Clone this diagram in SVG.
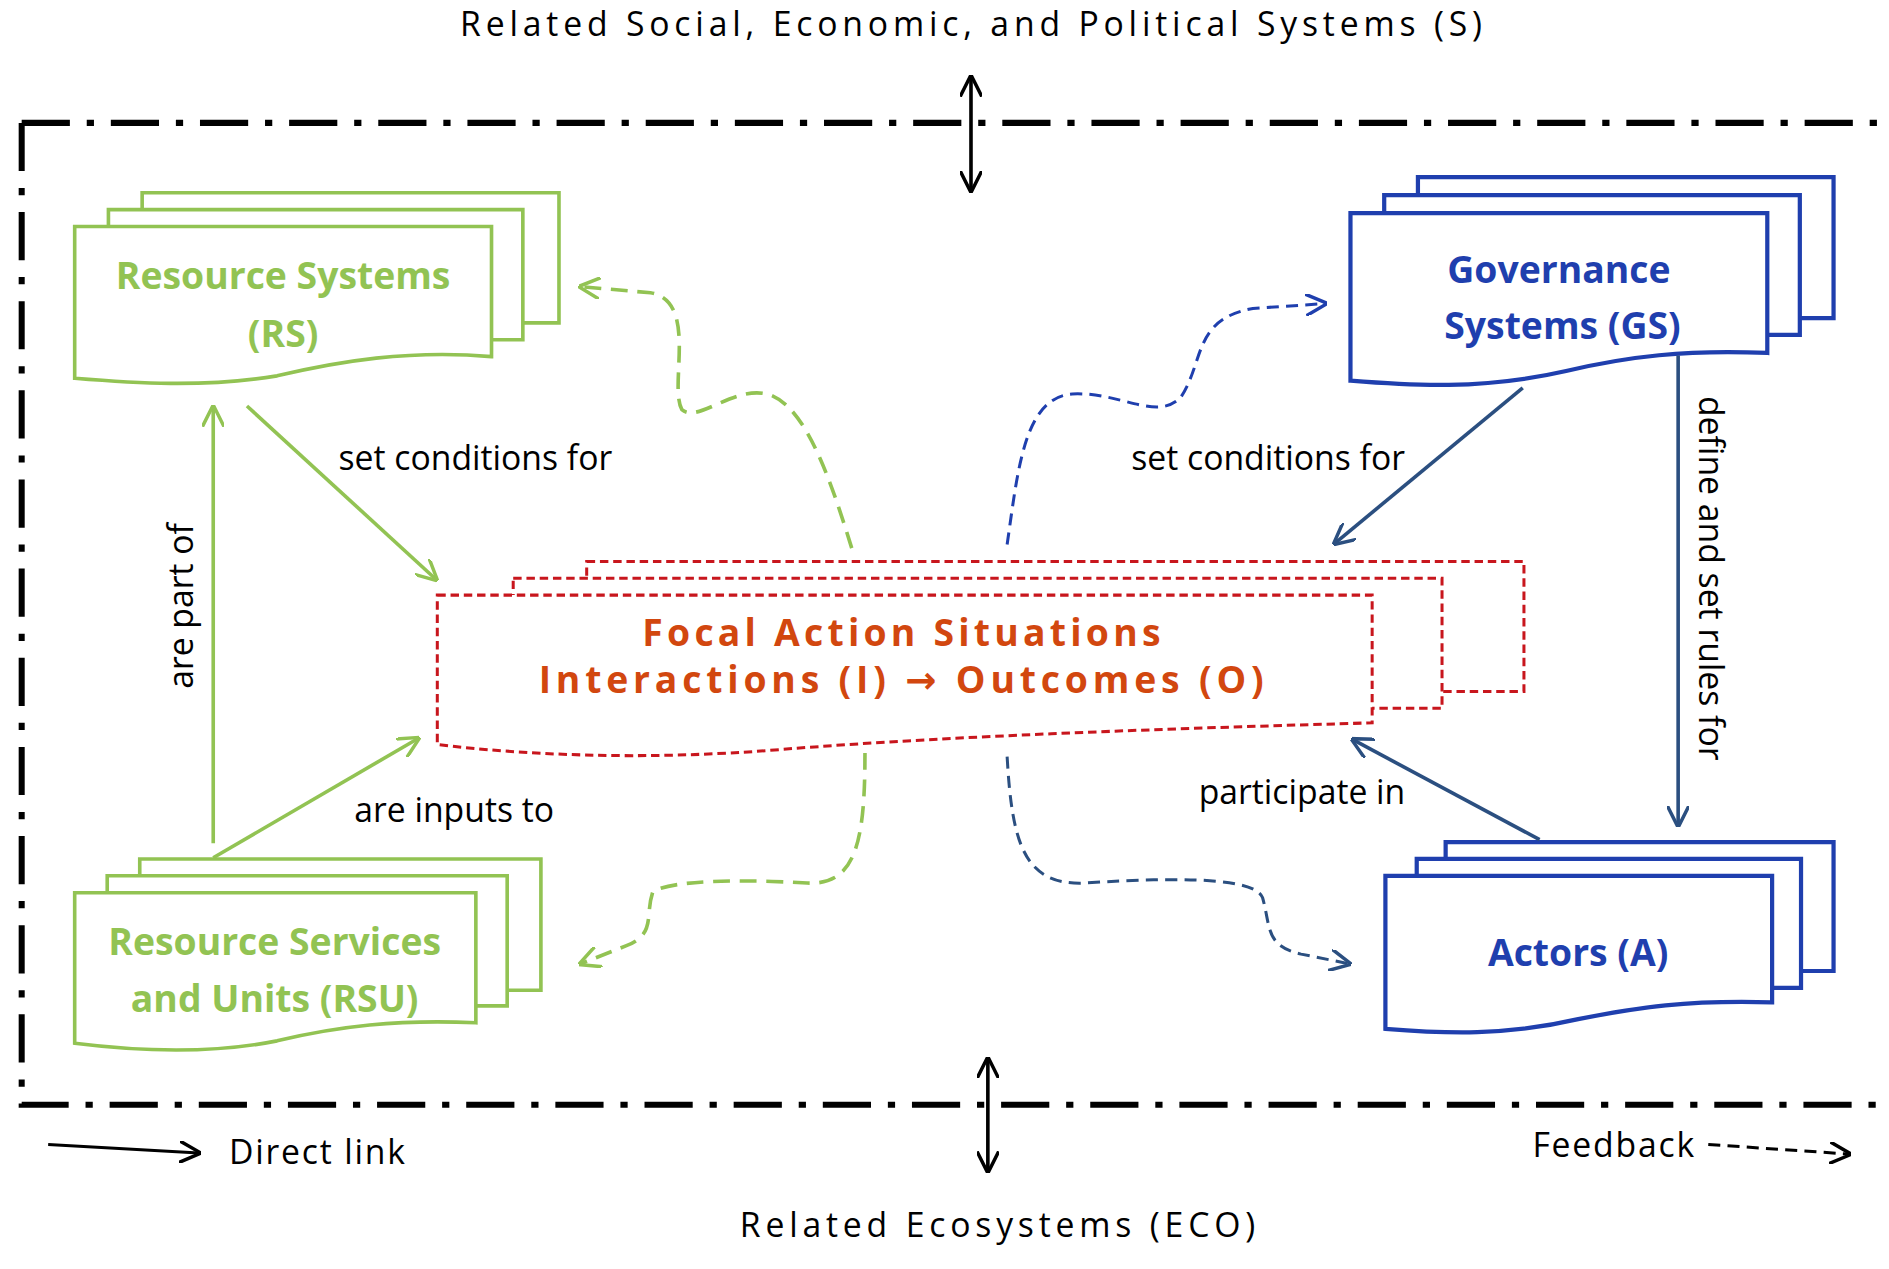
<svg xmlns="http://www.w3.org/2000/svg" width="1889" height="1269" viewBox="0 0 1889 1269">
<defs>
<style>
.t{font-family:"Open Sans","DejaVu Sans",sans-serif;font-size:28px;fill:#000}
.n{font-family:"Open Sans","DejaVu Sans",sans-serif;font-size:31px;font-weight:bold;text-anchor:middle}
.g{fill:#fff;stroke:#92c353;stroke-width:3}
.b{fill:#fff;stroke:#1f3fae;stroke-width:3.5}
.r{fill:#fff;stroke:#c8161d;stroke-width:2.5;stroke-dasharray:7 4}
</style>
<marker id="ag" viewBox="0 0 10 10" refX="9" refY="5" markerWidth="18" markerHeight="18" orient="auto-start-reverse" markerUnits="userSpaceOnUse"><path d="M0,0L10,5L0,10" fill="none" stroke="#92c353" stroke-width="1.6"/></marker>
<marker id="ab" viewBox="0 0 10 10" refX="9" refY="5" markerWidth="18" markerHeight="18" orient="auto" markerUnits="userSpaceOnUse"><path d="M0,0L10,5L0,10" fill="none" stroke="#1f3fae" stroke-width="1.6"/></marker>
<marker id="ad" viewBox="0 0 10 10" refX="9" refY="5" markerWidth="18" markerHeight="18" orient="auto" markerUnits="userSpaceOnUse"><path d="M0,0L10,5L0,10" fill="none" stroke="#2b4f80" stroke-width="1.6"/></marker>
<marker id="ak" viewBox="0 0 10 10" refX="9" refY="5" markerWidth="18" markerHeight="18" orient="auto-start-reverse" markerUnits="userSpaceOnUse"><path d="M0,0L10,5L0,10" fill="none" stroke="#000" stroke-width="1.6"/></marker>
</defs>
<rect width="1889" height="1269" fill="#fff"/>
<g transform="scale(1.2047)">
<g id="context">
<text x="808" y="30" class="t" font-size="32" text-anchor="middle" letter-spacing="4">Related Social, Economic, and Political Systems (S)</text>
<text x="830" y="1027" class="t" font-size="32" text-anchor="middle" letter-spacing="4">Related Ecosystems (ECO)</text>
<path d="M18,102H1568M18,102V917H1568" fill="none" stroke="#000" stroke-width="5" stroke-dasharray="40 14 6 14"/>
</g>
<g id="legend">
<text x="190" y="966" class="t" font-size="21" letter-spacing="1.5">Direct link</text>
<text x="1272" y="960" class="t" font-size="21" letter-spacing="1.5">Feedback</text>
</g>
<g id="RS">
<path class="g" d="M118,160H464V268H118Z"/>
<path class="g" d="M90,174H434V282H90Z"/>
<path class="g" d="M62,188H408V296C340,290 280,300 230,312C170,322 110,318 62,314Z"/>
<text class="n" fill="#92c353" x="235" y="240">Resource Systems</text>
<text class="n" fill="#92c353" x="235" y="288">(RS)</text>
</g>
<g id="RSU">
<path class="g" d="M116,713H449V822H116Z"/>
<path class="g" d="M89,727H421V835H89Z"/>
<path class="g" d="M62,741H395V849C330,846 280,852 230,864C170,876 110,872 62,866Z"/>
<text class="n" fill="#92c353" x="228" y="793">Resource Services</text>
<text class="n" fill="#92c353" x="228" y="840">and Units (RSU)</text>
</g>
<g id="GS">
<path class="b" d="M1177,147H1522V264H1177Z"/>
<path class="b" d="M1149,162H1494V278H1149Z"/>
<path class="b" d="M1121,177H1467V293C1400,290 1350,296 1300,308C1230,324 1170,320 1121,316Z"/>
<text class="n" fill="#1f3fae" x="1294" y="235">Governance</text>
<text class="n" fill="#1f3fae" x="1297" y="281">Systems (GS)</text>
</g>
<g id="A">
<path class="b" d="M1200,699H1522V806H1200Z"/>
<path class="b" d="M1176,713H1495V820H1176Z"/>
<path class="b" d="M1150,727H1471V832C1400,830 1360,836 1310,846C1250,860 1200,858 1150,854Z"/>
<text class="n" fill="#1f3fae" x="1310" y="802">Actors (A)</text>
</g>
<g id="focal">
<path class="r" d="M487,466H1265V574H487Z"/>
<path class="r" d="M426,480H1197V588H426Z"/>
<path class="r" d="M363,494H1139V600C1000,604 800,610 650,622C530,632 430,626 363,618Z"/>
<text class="n" fill="#d2470f" x="750" y="536" letter-spacing="3.5">Focal Action Situations</text>
<text class="n" fill="#d2470f" x="750" y="575" letter-spacing="4">Interactions (I) → Outcomes (O)</text>
</g>
<g id="connectors" fill="none" stroke-width="3">
<path d="M806,64V158" stroke="#000" marker-start="url(#ak)" marker-end="url(#ak)"/>
<path d="M820,879V972" stroke="#000" marker-start="url(#ak)" marker-end="url(#ak)"/>
<path d="M40,950L165,957" stroke="#000" stroke-width="2.5" marker-end="url(#ak)"/>
<path d="M1418,950L1535,958" stroke="#000" stroke-width="2.5" stroke-dasharray="10 6" marker-end="url(#ak)"/>
<path d="M205,337L362,481" stroke="#92c353" marker-end="url(#ag)"/>
<path d="M177,700V338" stroke="#92c353" marker-end="url(#ag)"/>
<path d="M177,712L347,613" stroke="#92c353" marker-end="url(#ag)"/>
<path d="M1264,322L1108,451" stroke="#2b4f80" marker-end="url(#ad)"/>
<path d="M1393,295V685" stroke="#2b4f80" marker-end="url(#ad)"/>
<path d="M1278,697L1123,614" stroke="#2b4f80" marker-end="url(#ad)"/>
<path d="M707,455C690,400 670,340 640,328C610,318 580,352 566,340C555,320 580,250 540,243L482,238" stroke="#92c353" stroke-dasharray="14 8" marker-end="url(#ag)"/>
<path d="M718,625C718,700 710,735 670,733C620,730 560,730 542,740C535,760 545,775 520,785L482,800" stroke="#92c353" stroke-dasharray="14 8" marker-end="url(#ag)"/>
<path d="M836,452C845,390 850,330 890,327C930,325 960,350 980,330C1000,300 990,265 1040,256L1100,252" stroke="#1f3fae" stroke-width="2.5" stroke-dasharray="10 6" marker-end="url(#ab)"/>
<path d="M836,628C840,700 850,735 900,733C950,730 1040,725 1048,745C1055,770 1050,785 1080,792L1120,800" stroke="#2b4f80" stroke-width="2.5" stroke-dasharray="10 6" marker-end="url(#ad)"/>
</g>
<g id="labels">
<text x="281" y="390" class="t">set conditions for</text>
<text x="939" y="390" class="t">set conditions for</text>
<text x="294" y="682" class="t">are inputs to</text>
<text x="995" y="667" class="t">participate in</text>
<text transform="translate(160,503) rotate(-90)" class="t" text-anchor="middle">are part of</text>
<text transform="translate(1410,480) rotate(90)" class="t" text-anchor="middle">define and set rules for</text>
</g>
</g>
</svg>
